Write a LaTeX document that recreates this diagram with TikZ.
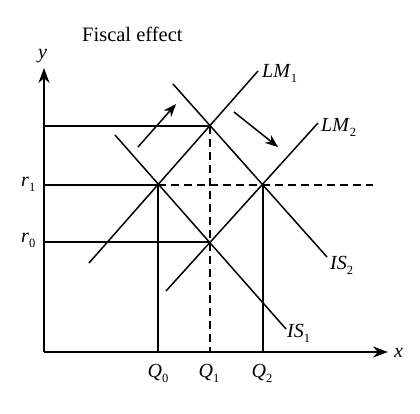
\documentclass[tikz,border=0pt]{standalone}
\usepackage{fontspec}
\setmainfont{Liberation Serif}
\usetikzlibrary{arrows.meta}
\newcommand{\mylab}[2]{\textit{#1}\raisebox{-5.5pt}{\fontsize{12.5}{12.5}\selectfont #2}}
\begin{document}
\begin{tikzpicture}[x=1pt,y=-1pt,
  curve/.style={line width=1.5pt},
  guide/.style={line width=1.5pt},
  dguide/.style={line width=1.5pt,dash pattern=on 8pt off 5pt},
  axis/.style={line width=1.5pt,-{Stealth[length=15pt,width=11pt]}},
  move/.style={line width=1.5pt,-{Stealth[length=13pt,width=10pt]}},
  lbl/.style={inner sep=0pt,anchor=base west,font=\fontsize{20}{20}\selectfont},
  qlbl/.style={inner sep=0pt,anchor=base,font=\fontsize{20}{20}\selectfont}]
\useasboundingbox (0,0) rectangle (420,413);
\fill[white] (0,0) rectangle (420,413);
% key coordinates
\coordinate (O) at (44,352);
\coordinate (Ytop) at (44,68);
\coordinate (Xend) at (388,352);
\coordinate (A) at (158,185);  % LM1 x IS1
\coordinate (B) at (210,126);  % LM1 x IS2
\coordinate (C) at (210,242);  % LM2 x IS1
\coordinate (D) at (263,185);  % LM2 x IS2
\coordinate (yB) at (44,126);
\coordinate (yA) at (44,185);
\coordinate (yC) at (44,242);
\coordinate (rEnd) at (373,185);
\coordinate (q0) at (158,352);
\coordinate (q1) at (210,352);
\coordinate (q2) at (263,352);
\coordinate (LMa0) at (89,263);
\coordinate (LMa1) at (258,71);
\coordinate (LMb0) at (166,291);
\coordinate (LMb1) at (318,123);
\coordinate (ISa0) at (115,135);
\coordinate (ISa1) at (286,329);
\coordinate (ISb0) at (173,84);
\coordinate (ISb1) at (327,257);
\coordinate (m1s) at (138,147);
\coordinate (m1e) at (176,104);
\coordinate (m2s) at (234,112);
\coordinate (m2e) at (278,147);
% axes
\draw[axis] (O) -- (Ytop);
\draw[axis] (O) -- (Xend);
% guides
\draw[guide] (yB) -- (B);
\draw[guide] (yA) -- (A);
\draw[dguide] (A) -- (rEnd);
\draw[guide] (yC) -- (C);
\draw[guide] (A) -- (q0);
\draw[dguide] (B) -- (q1);
\draw[guide] (D) -- (q2);
% curves
\draw[curve] (LMa0) -- (LMa1);
\draw[curve] (LMb0) -- (LMb1);
\draw[curve] (ISa0) -- (ISa1);
\draw[curve] (ISb0) -- (ISb1);
% movement arrows
\draw[move] (m1s) -- (m1e);
\draw[move] (m2s) -- (m2e);
% labels
\node[inner sep=0pt,anchor=base west,font=\fontsize{20.5}{20.5}\selectfont] (title) at (82,41) {Fiscal effect};
\node[lbl] (ylab) at (38,58) {\textit{y}};
\node[lbl] (xlab) at (394,357) {\textit{x}};
\node[lbl] (lm1) at (262,77) {\mylab{LM}{1}};
\node[lbl] (lm2) at (321,131) {\mylab{LM}{2}};
\node[lbl] (is1) at (287,337) {\mylab{IS}{1}};
\node[lbl] (is2) at (330,269) {\mylab{IS}{2}};
\node[lbl] (r1) at (21,186) {\mylab{r}{1}};
\node[lbl] (r0) at (21,242) {\mylab{r}{0}};
\node[qlbl] (Q0) at (158,377) {\mylab{Q}{0}};
\node[qlbl] (Q1) at (209,377) {\mylab{Q}{1}};
\node[qlbl] (Q2) at (262,377) {\mylab{Q}{2}};
\end{tikzpicture}
\end{document}
